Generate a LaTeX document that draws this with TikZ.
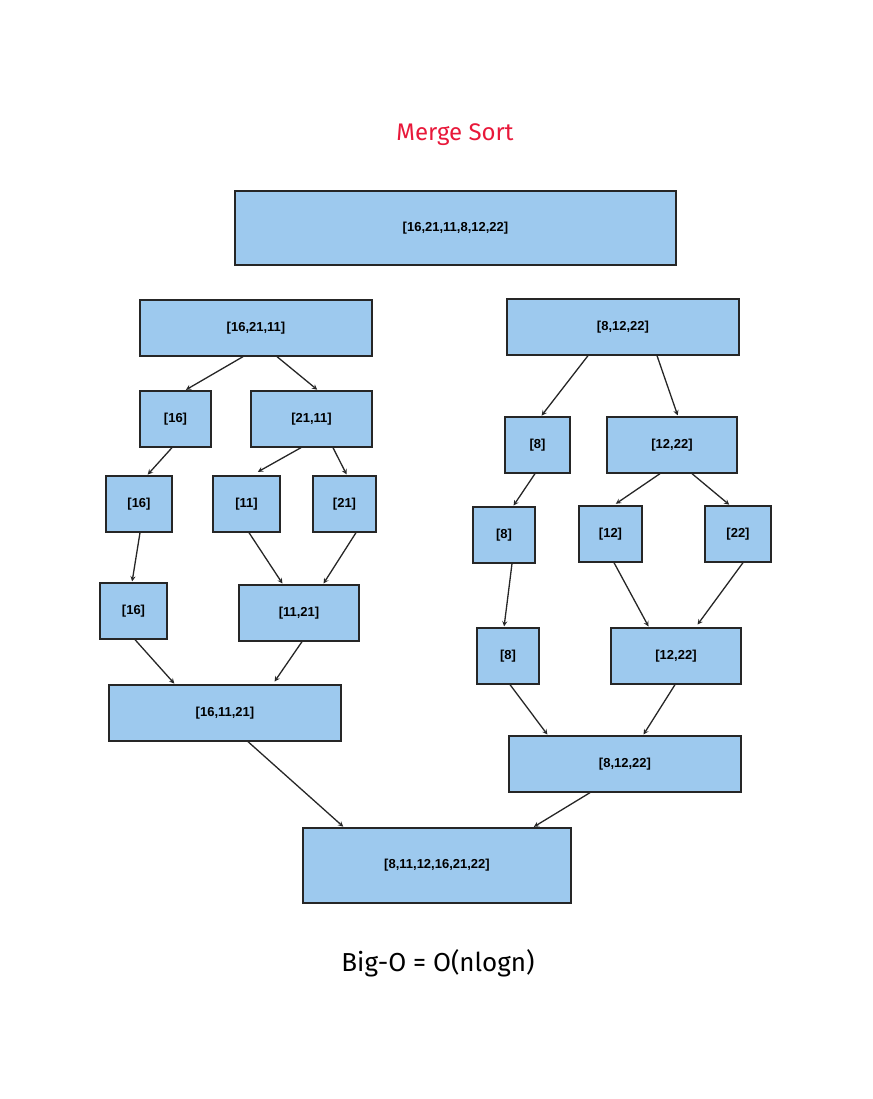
\documentclass[tikz,border=0pt]{standalone}
\usepackage{fontspec}
\setmainfont{Liberation Sans}
\newfontfamily\handfont{Fira Sans}
\usetikzlibrary{calc}
\definecolor{boxblue}{HTML}{9DC9EE}
\definecolor{edgegray}{HTML}{262626}
\definecolor{titlered}{HTML}{E8183A}
\tikzset{
	box/.style={rectangle, draw=edgegray, line width=1.3pt, fill=boxblue, inner sep=0pt, minimum height=56, font=\bfseries\fontsize{13}{15}\selectfont},
	arr/.style={-stealth, draw=edgegray, line width=1.3pt, shorten >=1pt}
}
\begin{document}
\begin{tikzpicture}[x=1pt,y=-1pt]
	\useasboundingbox (0,0) rectangle (872,1099);
	\node (title) at (455,135) [text=titlered, font=\handfont\fontsize{24}{28}\selectfont] {Merge Sort};
	\node (bigo) at (438,963) [font=\handfont\fontsize{26}{30}\selectfont] {Big-O = O(nlogn)};
	\node (all) at (455.5,228) [box, minimum width=441, minimum height=74] {[16,21,11,8,12,22]};
	\node (l1) at (256,328) [box, minimum width=232] {[16,21,11]};
	\node (r1) at (623,327) [box, minimum width=232] {[8,12,22]};
	\node (la) at (175.5,419) [box, minimum width=71] {[16]};
	\node (lb) at (311.5,419) [box, minimum width=121] {[21,11]};
	\node (laa) at (139,504) [box, minimum width=66] {[16]};
	\node (lba) at (246.5,504) [box, minimum width=67] {[11]};
	\node (lbb) at (344.5,504) [box, minimum width=63] {[21]};
	\node (lm1) at (133.5,611) [box, minimum width=67] {[16]};
	\node (lm2) at (299,613) [box, minimum width=120] {[11,21]};
	\node (lm) at (225,713) [box, minimum width=232] {[16,11,21]};
	\node (ra) at (537.5,445) [box, minimum width=65] {[8]};
	\node (rb) at (672,445) [box, minimum width=130] {[12,22]};
	\node (raa) at (504,535) [box, minimum width=62] {[8]};
	\node (rba) at (610.5,534) [box, minimum width=63] {[12]};
	\node (rbb) at (738,534) [box, minimum width=66] {[22]};
	\node (rm1) at (508,656) [box, minimum width=62] {[8]};
	\node (rm2) at (676,656) [box, minimum width=130] {[12,22]};
	\node (rm) at (625,764) [box, minimum width=232] {[8,12,22]};
	\node (res) at (437,865.5) [box, minimum width=268, minimum height=75] {[8,11,12,16,21,22]};
	% left half
	\draw[arr] ($(l1.south)+(-13,0)$) -- ($(la.north)+(9.5,0)$);
	\draw[arr] ($(l1.south)+(21,0)$) -- ($(lb.north)+(6.5,0)$);
	\draw[arr] ($(la.south)+(-3.5,0)$) -- ($(laa.north)+(8,0)$);
	\draw[arr] ($(lb.south)+(-10.5,0)$) -- ($(lba.north)+(10.5,-3)$);
	\draw[arr] ($(lb.south)+(21.5,0)$) -- ($(lbb.north)+(2.5,0)$);
	\draw[arr] ($(laa.south)+(1,0)$) -- ($(lm1.north)+(-1.5,0)$);
	\draw[arr] ($(lba.south)+(2.5,0)$) -- ($(lm2.north)+(-16,0)$);
	\draw[arr] ($(lbb.south)+(11.5,0)$) -- ($(lm2.north)+(24,0)$);
	\draw[arr] ($(lm1.south)+(1.5,0)$) -- ($(lm.north)+(-50,0)$);
	\draw[arr] ($(lm2.south)+(3,0)$) -- ($(lm.north)+(49,-2)$);
	\draw[arr] ($(lm.south)+(23,0)$) -- ($(res.north)+(-93,0)$);
	% right half
	\draw[arr] ($(r1.south)+(-35,0)$) -- ($(ra.north)+(3.5,0)$);
	\draw[arr] ($(r1.south)+(34,0)$) -- ($(rb.north)+(6,0)$);
	\draw[arr] ($(ra.south)+(-2.5,0)$) -- ($(raa.north)+(9,0)$);
	\draw[arr] ($(rb.south)+(-12,0)$) -- ($(rba.north)+(4.5,-1)$);
	\draw[arr] ($(rb.south)+(20,0)$) -- ($(rbb.north)+(-8,0)$);
	\draw[arr] ($(raa.south)+(8,0)$) -- ($(rm1.north)+(-4,0)$);
	\draw[arr] ($(rba.south)+(3.5,0)$) -- ($(rm2.north)+(-27,0)$);
	\draw[arr] ($(rbb.south)+(5,0)$) -- ($(rm2.north)+(21,-2)$);
	\draw[arr] ($(rm1.south)+(2,0)$) -- ($(rm.north)+(-77,0)$);
	\draw[arr] ($(rm2.south)+(-1,0)$) -- ($(rm.north)+(18,0)$);
	\draw[arr] ($(rm.south)+(-35,0)$) -- ($(res.north)+(96,0)$);
\end{tikzpicture}
\end{document}
